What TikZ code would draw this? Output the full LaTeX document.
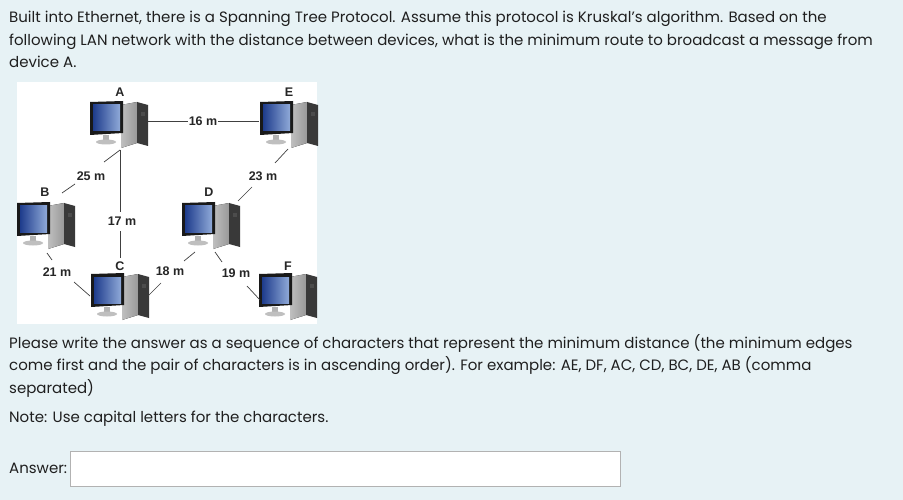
\documentclass[tikz,border=0pt]{standalone}
\usepackage{fontspec}
\setmainfont{Poppins}
\newfontfamily\lab{Liberation Sans}
\definecolor{bg}{HTML}{E7F2F5}
\definecolor{txt}{HTML}{1F1F1F}
\definecolor{scrA}{HTML}{1E3C8C}
\definecolor{scrB}{HTML}{8FA9D8}
\tikzset{
  qtext/.style={anchor=base west, inner sep=0pt, font=\fontsize{15pt}{18pt}\selectfont, text=txt},
  elab/.style={font=\lab\bfseries\fontsize{12.5pt}{14pt}\selectfont, inner sep=1pt, text=black!85},
  edge/.style={draw=black!75, line width=0.7pt},
  pc/.pic={
    % tower
    \fill[left color=gray!50, right color=gray!80] (31,3) -- (47,0) -- (47,41) -- (31,46) -- cycle;
    \fill[gray!45!black] (47,0) -- (58,3) -- (58,44) -- (47,41) -- cycle;
    \fill[black!70] (51,10) rectangle (55,14);
    % monitor
    \fill[black!90] (0,0) -- (33,-1) -- (33,31) -- (0,33) -- cycle;
    \shade[left color=scrA, right color=scrB] (3,3) rectangle (30,29);
    \fill[gray!60] (13,33) rectangle (19,38);
    \fill[gray!50] (16,40) ellipse (10 and 2.5);
  }
}
\begin{document}
\begin{tikzpicture}[x=1pt,y=-1pt]
\fill[bg] (0,0) rectangle (903,500);
\node[qtext] (q1) at (9,23) {Built into Ethernet, there is a Spanning Tree Protocol. Assume this protocol is Kruskal's algorithm. Based on the};
\node[qtext] (q2) at (9,46) {following LAN network with the distance between devices, what is the minimum route to broadcast a message from};
\node[qtext] (q3) at (9,68) {device A.};
\fill[white] (17,82) rectangle (317,324);
% computers
\pic at (90,102) {pc};
\pic at (260,102) {pc};
\pic at (17,203) {pc};
\pic at (182,203) {pc};
\pic at (91,274) {pc};
\pic at (259,274) {pc};
\node[elab] (A) at (120,92) {A};
\node[elab] (E) at (289,92) {E};
\node[elab] (B) at (45,192) {B};
\node[elab] (D) at (209,192) {D};
\node[elab] (C) at (120,266) {C};
\node[elab] (F) at (288,266) {F};
% edges
\node[elab] (l16) at (203,121) {16 m};
\draw[edge] (148,121) -- (l16.west); \draw[edge] (l16.east) -- (259,121);
\node[elab] (l17) at (122,221) {17 m};
\draw[edge] (120,150) -- (120,212); \draw[edge] (120,231) -- (120,258);
\node[elab] (l25) at (91,176) {25 m};
\draw[edge] (120,150) -- (104,162); \draw[edge] (75,184) -- (62,193);
\node[elab] (l21) at (57,272) {21 m};
\draw[edge] (47,253) -- (52,260); \draw[edge] (74,282) -- (90,296);
\node[elab] (l18) at (170,271) {18 m};
\draw[edge] (148,296) -- (161,283); \draw[edge] (184,261) -- (195,252);
\node[elab] (l19) at (236,273) {19 m};
\draw[edge] (215,252) -- (222,262); \draw[edge] (247,286) -- (260,300);
\node[elab] (l23) at (263,176) {23 m};
\draw[edge] (288,149) -- (275,163); \draw[edge] (252,187) -- (238,201);
% bottom text
\node[qtext] (p1) at (9,348) {Please write the answer as a sequence of characters that represent the minimum distance (the minimum edges};
\node[qtext] (p2) at (9,370) {come first and the pair of characters is in ascending order). For example: AE, DF, AC, CD, BC, DE, AB (comma};
\node[qtext] (p3) at (9,393) {separated)};
\node[qtext] (p4) at (9,422) {Note: Use capital letters for the characters.};
\node[qtext] (ans) at (9,473) {Answer:};
\draw[fill=white, draw=gray!60] (70,451) rectangle (620,486);
\end{tikzpicture}
\end{document}
